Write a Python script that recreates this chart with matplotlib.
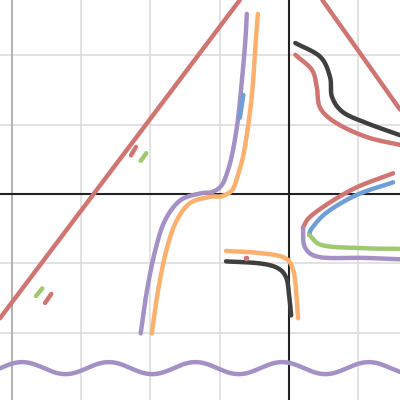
import numpy as np
import matplotlib
matplotlib.use("Agg")
import matplotlib.pyplot as plt

# view window in grid units
x_min, x_max = -4.17, 1.60
y_min, y_max = -2.97, 2.80

# red straight lines (endpoints)
red_line1 = ([-4.17, -0.71], [-1.79, 2.80])
red_line2 = ([0.48, 1.60], [2.80, 1.22])

# purple and orange steep curves
purple_x = [-2.14, -2.05, -1.93, -1.79, -1.57, -1.28, -1.11, -0.97, -0.88, -0.81, -0.74, -0.68, -0.63, -0.61]
purple_y = [-2.01, -1.39, -0.81, -0.38, -0.09, 0.01, 0.03, 0.13, 0.35, 0.63, 1.06, 1.64, 2.22, 2.60]
orange_x = [-1.98, -1.89, -1.77, -1.63, -1.43, -1.14, -0.97, -0.82, -0.74, -0.66, -0.59, -0.53, -0.49, -0.45]
orange_y = [-2.01, -1.39, -0.81, -0.40, -0.13, -0.04, -0.03, 0.06, 0.27, 0.56, 0.99, 1.49, 2.08, 2.60]

# hyperbola-like pieces
orange_h_x = [-0.91, -0.42, -0.06, 0.06, 0.10, 0.13]
orange_h_y = [-0.82, -0.85, -0.92, -1.10, -1.39, -1.79]
black_h_x = [-0.91, -0.42, -0.16, -0.04, 0.00, 0.03]
black_h_y = [-0.97, -1.00, -1.07, -1.21, -1.46, -1.75]

# top-right S curves
black_s_x = [0.09, 0.45, 0.59, 0.62, 0.78, 1.13, 1.60]
black_s_y = [2.18, 1.98, 1.69, 1.40, 1.18, 1.02, 0.85]
red_s_x = [0.09, 0.33, 0.40, 0.45, 0.69, 1.13, 1.60]
red_s_y = [2.01, 1.79, 1.54, 1.24, 1.02, 0.82, 0.71]

# right-side parabola pieces
red_p_x = [1.50, 0.98, 0.59, 0.30, 0.20]
red_p_y = [0.30, 0.10, -0.12, -0.33, -0.48]
purple_p_x = [0.20, 0.23, 0.45, 1.07, 1.60]
purple_p_y = [-0.48, -0.77, -0.91, -0.92, -0.94]
blue_p_x = [1.50, 0.98, 0.55, 0.33, 0.29]
blue_p_y = [0.17, -0.01, -0.26, -0.49, -0.59]
green_p_x = [0.29, 0.49, 1.07, 1.60]
green_p_y = [-0.59, -0.74, -0.78, -0.79]

RED, BLUE, GREEN, PURPLE, ORANGE, BLACK = "#d07672", "#6f9fd6", "#9fc870", "#a391c6", "#fbb06e", "#3f3f3f"

# short dashes
dashes = [
    (BLUE, [-0.66, -0.71], [1.43, 1.10]),
    (RED, [-2.28, -2.21], [0.56, 0.68]),
    (GREEN, [-2.14, -2.06], [0.48, 0.59]),
    (GREEN, [-3.65, -3.56], [-1.47, -1.36]),
    (RED, [-3.52, -3.43], [-1.57, -1.44]),
]
red_dot = (-0.62, -0.92)

# wave: baseline, amplitude, period, peak position
wave_base, wave_amp, wave_period, wave_peak = -2.51, 0.087, 1.25, -0.10


def smooth(xs, ys, n=20):
    # Catmull-Rom through the read points, for drawing only
    p = np.column_stack([xs, ys]).astype(float)
    p = np.vstack([2 * p[0] - p[1], p, 2 * p[-1] - p[-2]])
    out = []
    t = np.linspace(0, 1, n, endpoint=False)[:, None]
    for i in range(1, len(p) - 2):
        p0, p1, p2, p3 = p[i - 1], p[i], p[i + 1], p[i + 2]
        seg = 0.5 * ((2 * p1) + (-p0 + p2) * t + (2 * p0 - 5 * p1 + 4 * p2 - p3) * t ** 2
                     + (-p0 + 3 * p1 - 3 * p2 + p3) * t ** 3)
        out.append(seg)
    out.append(p[-2][None, :])
    out = np.vstack(out)
    return out[:, 0], out[:, 1]


lw = 3.2

fig = plt.figure(figsize=(4, 4), dpi=100)
ax = fig.add_axes([0, 0, 1, 1])
ax.set_xlim(x_min, x_max)
ax.set_ylim(y_min, y_max)
for g in range(-4, 2):
    ax.axvline(g, color="#dddddd", lw=1.2, zorder=0)
for g in range(-2, 3):
    ax.axhline(g, color="#dddddd", lw=1.2, zorder=0)
ax.axvline(-4, color="#aaaaaa", lw=1.2, zorder=0)
ax.axvline(0, color="#222222", lw=1.5, zorder=1)
ax.axhline(0, color="#222222", lw=1.5, zorder=1)

kw = dict(lw=lw, solid_capstyle="round")
ax.plot(*red_line1, color=RED, **kw)
ax.plot(*red_line2, color=RED, **kw)
for xs, ys, c in [(purple_x, purple_y, PURPLE), (orange_x, orange_y, ORANGE),
                  (orange_h_x, orange_h_y, ORANGE), (black_h_x, black_h_y, BLACK),
                  (black_s_x, black_s_y, BLACK), (red_s_x, red_s_y, RED),
                  (red_p_x, red_p_y, RED), (purple_p_x, purple_p_y, PURPLE),
                  (blue_p_x, blue_p_y, BLUE), (green_p_x, green_p_y, GREEN)]:
    ax.plot(*smooth(xs, ys), color=c, **kw)
for c, xs, ys in dashes:
    ax.plot(xs, ys, color=c, **kw)
ax.plot(*red_dot, "o", color=RED, ms=3)

wx = np.linspace(x_min, x_max, 400)
ax.plot(wx, wave_base + wave_amp * np.cos(2 * np.pi * (wx - wave_peak) / wave_period), color=PURPLE, **kw)

ax.set_xticks([])
ax.set_yticks([])
for s in ax.spines.values():
    s.set_visible(False)
fig.savefig("out.png", dpi=100)
